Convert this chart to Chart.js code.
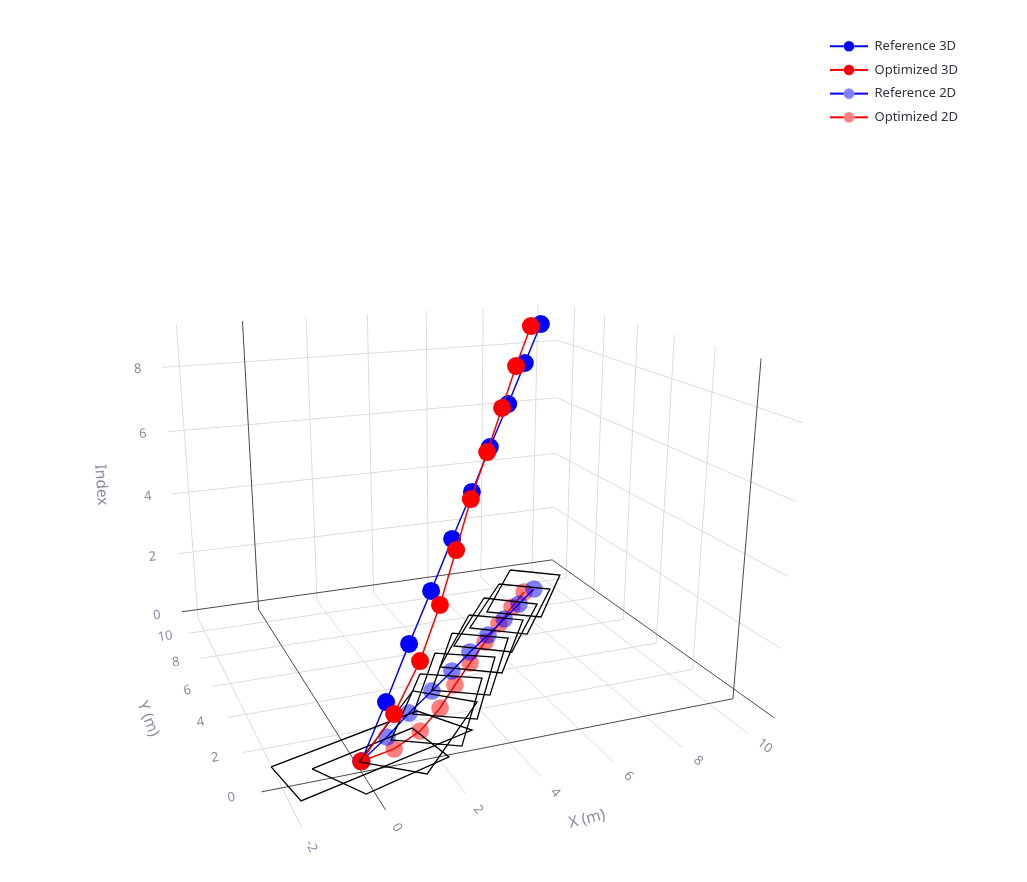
<!DOCTYPE html>
<html>
<head>
<meta charset="utf-8">
<title>Trajectory</title>
<script src="https://cdn.jsdelivr.net/npm/chart.js@4"></script>
<style>
    html, body { margin: 0; background: #fff; }
    canvas { display: block; }
</style>
</head>
<body>
<canvas id="chart" width="1027" height="882"></canvas>
<script>
const index = [0, 1, 2, 3, 4, 5, 6, 7, 8, 9];

const ref3dX = [0, 0.97, 1.98, 2.96, 4.00, 4.97, 5.93, 6.94, 7.94, 8.95];
const ref3dY = [0, 0.91, 1.95, 2.88, 3.95, 4.85, 5.79, 6.75, 7.74, 8.74];
const opt3dX = [0, 0.95, 1.88, 2.82, 3.76, 4.68, 5.63, 6.55, 7.48, 8.48];
const opt3dY = [0, 0.24, 0.87, 1.88, 3.07, 4.24, 5.30, 6.33, 7.39, 8.48];

const ref2dX = [0, 0.98, 1.95, 2.98, 3.97, 4.95, 5.95, 6.93, 7.90, 8.94];
const ref2dY = [0, 0.92, 1.94, 2.92, 3.89, 4.89, 5.83, 6.79, 7.75, 8.77];
const opt2dX = [0, 0.95, 1.88, 2.82, 3.71, 4.66, 5.66, 6.61, 7.58, 8.51];
const opt2dY = [0, 0.28, 0.91, 1.90, 3.03, 4.19, 5.39, 6.48, 7.60, 8.64];

// corners of the black frames on the ground plane, one row per frame
const frameX = [
    [-2.12, -1.84, 3.14, 2.19],
    [-1.22, -0.35, 2.08, 1.74],
    [-0.06, 1.29, 3.88, 2.49],
    [3.05, 4.59, 2.58, 1.03],
    [3.96, 5.50, 3.50, 2.03],
    [4.98, 6.43, 4.37, 3.00],
    [6.02, 7.45, 5.25, 3.75],
    [7.04, 8.45, 6.11, 4.67],
    [8.03, 9.44, 7.10, 5.64],
    [8.95, 10.36, 8.09, 6.65]
];
const frameY = [
    [0.54, -1.20, 0.47, 1.96],
    [0.09, -1.46, -0.58, 1.13],
    [-0.01, -1.14, 1.86, 3.11],
    [4.04, 3.16, -0.20, 0.74],
    [5.20, 4.30, 0.97, 1.84],
    [6.37, 5.40, 2.11, 2.97],
    [7.49, 6.50, 3.25, 4.26],
    [8.64, 7.53, 4.44, 5.46],
    [9.62, 8.57, 5.46, 6.53],
    [10.71, 9.63, 6.51, 7.51]
];

const xTicks = [-2, 0, 2, 4, 6, 8, 10];
const yTicks = [0, 2, 4, 6, 8, 10];
const zTicks = [0, 2, 4, 6, 8];

// axis box and camera of the 3D view
const xRange = [-2.5, 10.8];
const yRange = [-1.81, 11.1];
const zRange = [-0.3, 9.26];
const camera = [
    [43.31328, -1.23290, -4.89749, 361.31765],
    [1.59269, 4.34800, -44.19555, 761.32212],
    [0.0120312, 0.0312443, -0.0108141, 1]
];

const GRID = '#dcdcdc';
const ZERO = '#4a4a4a';
const TICK = '#8a8ba6';
const BLUE = '#0000ff';
const RED = '#ff0000';
const BLUE_A = 'rgba(0,0,255,0.5)';
const RED_A = 'rgba(255,0,0,0.5)';

function project(x, y, z) {
    const w = camera[2][0] * x + camera[2][1] * y + camera[2][2] * z + camera[2][3];
    return {
        x: (camera[0][0] * x + camera[0][1] * y + camera[0][2] * z + camera[0][3]) / w,
        y: (camera[1][0] * x + camera[1][1] * y + camera[1][2] * z + camera[1][3]) / w
    };
}

function path(xs, ys, zs) {
    return xs.map((x, i) => project(x, ys[i], zs ? zs[i] : 0));
}

let stack = 0;
function polyline(data, color, width) {
    stack -= 1;
    return {
        data: data,
        order: stack,
        borderColor: color,
        borderWidth: width,
        pointRadius: 0,
        showLine: true,
        fill: false,
        tension: 0
    };
}

function trace(data, lineColor, dotColor, radius, label) {
    return Object.assign(polyline(data, lineColor, 1.5), {
        label: label,
        pointRadius: radius,
        pointBackgroundColor: dotColor,
        pointBorderWidth: 0
    });
}

function gridLines(color, xs, ys, zs) {
    const sets = [];
    xs.filter(v => (v === 0) === (color === ZERO)).forEach(v => {
        sets.push(polyline([project(v, yRange[1], zRange[1]), project(v, yRange[1], zRange[0]), project(v, yRange[0], zRange[0])], color, 1));
    });
    ys.filter(v => (v === 0) === (color === ZERO)).forEach(v => {
        sets.push(polyline([project(xRange[0], v, zRange[0]), project(xRange[1], v, zRange[0]), project(xRange[1], v, zRange[1])], color, 1));
    });
    zs.filter(v => (v === 0) === (color === ZERO)).forEach(v => {
        sets.push(polyline([project(xRange[0], yRange[1], v), project(xRange[1], yRange[1], v), project(xRange[1], yRange[0], v)], color, 1));
    });
    return sets;
}

function legendSwatch(lineColor, dotColor) {
    const c = document.createElement('canvas');
    c.width = 38;
    c.height = 12;
    const g = c.getContext('2d');
    g.strokeStyle = lineColor;
    g.lineWidth = 2;
    g.beginPath();
    g.moveTo(0, 6);
    g.lineTo(38, 6);
    g.stroke();
    // marker sits over a white disc so the line does not show through it
    g.fillStyle = '#fff';
    g.beginPath();
    g.arc(19, 6, 5.3, 0, Math.PI * 2);
    g.fill();
    g.fillStyle = dotColor;
    g.beginPath();
    g.arc(19, 6, 5.3, 0, Math.PI * 2);
    g.fill();
    return c;
}

const legendItems = [
    { text: 'Reference 3D', pointStyle: legendSwatch(BLUE, BLUE) },
    { text: 'Optimized 3D', pointStyle: legendSwatch(RED, RED) },
    { text: 'Reference 2D', pointStyle: legendSwatch(BLUE, BLUE_A) },
    { text: 'Optimized 2D', pointStyle: legendSwatch(RED, RED_A) }
];

function drawLabel(ctx, text, at, angle, font) {
    ctx.save();
    ctx.translate(at.x, at.y);
    ctx.rotate(angle);
    ctx.font = font;
    ctx.fillStyle = TICK;
    ctx.textAlign = 'center';
    ctx.textBaseline = 'middle';
    ctx.fillText(text, 0, 0);
    ctx.restore();
}

function along(a, b, dist) {
    const dx = b.x - a.x, dy = b.y - a.y, len = Math.hypot(dx, dy);
    return { x: b.x + dx / len * dist, y: b.y + dy / len * dist };
}

const tickFont = '13px "Noto Sans"';
const titleFont = '15.5px "Noto Sans"';

const axisLabels = {
    id: 'axisLabels',
    afterDraw(chart) {
        const ctx = chart.ctx;
        xTicks.forEach(v => {
            const a = project(v, yRange[1], zRange[0]), b = project(v, yRange[0], zRange[0]);
            drawLabel(ctx, String(v), along(a, b, 21), Math.atan2(b.y - a.y, b.x - a.x), tickFont);
        });
        yTicks.forEach(v => {
            const a = project(xRange[1], v, zRange[0]), b = project(xRange[0], v, zRange[0]);
            drawLabel(ctx, String(v), project(xRange[0] - 0.72, v, zRange[0]), Math.atan2(a.y - b.y, a.x - b.x), tickFont);
        });
        zTicks.forEach(v => {
            const a = project(xRange[1], yRange[1], v), b = project(xRange[0], yRange[1], v);
            drawLabel(ctx, String(v), along(a, b, 25), Math.atan2(a.y - b.y, a.x - b.x), tickFont);
        });
        const xEdge = Math.atan2(project(xRange[1], 0, zRange[0]).y - project(xRange[0], 0, zRange[0]).y,
            project(xRange[1], 0, zRange[0]).x - project(xRange[0], 0, zRange[0]).x);
        drawLabel(ctx, 'X (m)', { x: 587, y: 819 }, xEdge - 0.05, titleFont);
        drawLabel(ctx, 'Y (m)', { x: 148, y: 719 }, 1.2, titleFont);
        drawLabel(ctx, 'Index', { x: 101, y: 485 }, 1.5, titleFont);
    }
};

// the legend is laid out by Chart.js, only its corner is moved
const legendCorner = {
    id: 'legendCorner',
    afterLayout(chart) {
        const box = chart.legend;
        const pad = box.options.labels.padding;
        box.left = 830 - pad;
        box.right = 1027;
        box.top = 39.7 - pad;
        box.bottom = 140;
    }
};

function buildDatasets() {
    const sets = [];
    sets.push(...gridLines(GRID, xTicks, yTicks, zTicks));
    sets.push(...gridLines(ZERO, xTicks, yTicks, zTicks));
    sets.push(trace(path(opt2dX, opt2dY), RED, RED_A, 8.8, 'Optimized 2D'));
    sets.push(trace(path(ref2dX, ref2dY), BLUE, BLUE_A, 8.8, 'Reference 2D'));
    sets.push(trace(path(ref3dX, ref3dY, index), BLUE, BLUE, 9, 'Reference 3D'));
    // start marker stays under the frames, the rest of the red trace goes above them
    sets.push(trace(path(opt3dX.slice(0, 1), opt3dY.slice(0, 1), index.slice(0, 1)), RED, RED, 9, 'Start'));
    frameX.forEach((xs, i) => {
        sets.push(polyline(path(xs.concat(xs[0]), frameY[i].concat(frameY[i][0])), '#000', 1.3));
    });
    sets.push(trace(path(opt3dX, opt3dY, index), RED, RED, ctx => ctx.dataIndex === 0 ? 0 : 9, 'Optimized 3D'));
    return sets;
}

new Chart(document.getElementById('chart').getContext('2d'), {
    type: 'scatter',
    data: { datasets: buildDatasets() },
    options: {
        responsive: false,
        animation: false,
        layout: { padding: 0, autoPadding: false },
        scales: {
            x: { type: 'linear', display: false, min: 0, max: 1027 },
            y: { type: 'linear', display: false, min: 0, max: 882, reverse: true }
        },
        plugins: {
            tooltip: { enabled: false },
            legend: {
                position: 'chartArea',
                align: 'start',
                onClick: null,
                labels: {
                    usePointStyle: true,
                    pointStyleWidth: 38,
                    boxHeight: 13,
                    padding: 10.7,
                    color: '#31333f',
                    font: { family: '"Noto Sans"', size: 13 },
                    generateLabels: () => legendItems.map(item => ({
                        text: item.text,
                        pointStyle: item.pointStyle,
                        fontColor: '#31333f',
                        lineWidth: 0,
                        hidden: false
                    }))
                }
            }
        }
    },
    plugins: [axisLabels, legendCorner]
});
</script>
</body>
</html>
